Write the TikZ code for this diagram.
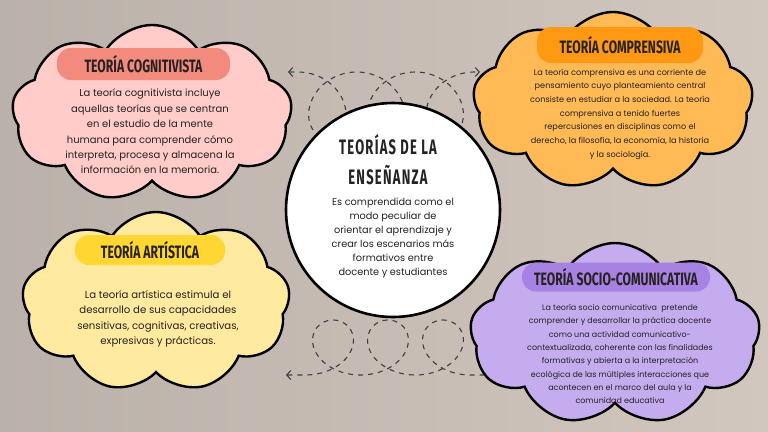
\documentclass[tikz,border=0pt]{standalone}
\usepackage{fontspec}
\setmainfont{Poppins}
\newfontfamily\headfont[FakeStretch=0.68]{Fira Sans}
\newfontfamily\corefont[FakeStretch=0.62,LetterSpace=6]{Fira Sans}
\usetikzlibrary{shapes.symbols,arrows.meta}
\definecolor{bgA}{RGB}{186,177,170}
\definecolor{bgD}{RGB}{210,199,191}
\definecolor{ink}{RGB}{38,34,34}
\definecolor{cogfill}{RGB}{255,204,201}
\definecolor{cogpill}{RGB}{242,138,126}
\definecolor{compfill}{RGB}{255,186,86}
\definecolor{comppill}{RGB}{255,152,18}
\definecolor{artfill}{RGB}{255,234,160}
\definecolor{artpill}{RGB}{255,214,50}
\definecolor{socfill}{RGB}{196,172,238}
\definecolor{socpill}{RGB}{168,130,226}
\tikzset{
  cloudnode/.style={cloud, cloud puffs=9, cloud puff arc=115, aspect=1.6,
    draw=black, line width=2.4bp, inner sep=0pt},
  pill/.style={rounded corners=14bp, inner sep=0pt, text=ink,
    font=\headfont\bfseries\fontsize{18}{18}\selectfont},
  body/.style={align=center, text=ink},
  conn/.style={<->, dashed, dash pattern=on 5bp off 5bp, line width=1.1bp, draw=black!75}
}
\begin{document}
\begin{tikzpicture}[x=1bp, y=-1bp, >={Straight Barb[length=4bp,width=9bp]}]
\shade[left color=bgA, right color=bgD] (0,0) rectangle (768,431);
% dashed coils
\coordinate (topL) at (288,72);
\coordinate (topR) at (480,72);
\coordinate (botL) at (286,375);
\coordinate (botR) at (493,375);
\draw[conn] (topL) -- plot[domain=0:6*pi, samples=220, variable=\t]
  ({298+9.34*\t+32*sin(\t r)}, {72+33*(1-cos(\t r))}) -- (topR);
\draw[conn] (botL) -- plot[domain=0:6*pi, samples=220, variable=\t]
  ({305.5+8.75*\t+33*sin(\t r)}, {375-27.5*(1-cos(\t r))}) -- (botR);
% clouds
\node[cloudnode, fill=cogfill, minimum width=280bp, minimum height=177bp] (cog) at (152,113.5) {};
\node[cloudnode, fill=compfill, minimum width=280bp, minimum height=178bp] (comp) at (613,101) {};
\node[cloudnode, fill=artfill, minimum width=268bp, minimum height=180bp] (art) at (156,302) {};
\node[cloudnode, fill=socfill, minimum width=290bp, minimum height=182bp] (soc) at (615,334) {};
% titles
\node[pill, fill=cogpill, minimum width=173bp, minimum height=32bp] (cogT) at (143.5,64) {TEORÍA COGNITIVISTA};
\node[pill, fill=comppill, minimum width=166bp, minimum height=36bp] (compT) at (620,45) {TEORÍA COMPRENSIVA};
\node[pill, fill=artpill, minimum width=150bp, minimum height=30bp] (artT) at (150,250) {TEORÍA ARTÍSTICA};
\node[pill, fill=socpill, minimum width=188bp, minimum height=29bp] (socT) at (616,277) {TEORÍA SOCIO-COMUNICATIVA};
% texts
\node[body, font=\fontsize{10}{15.5}\selectfont] (cogB) at (150,131.5)
  {La teoría cognitivista incluye\\aquellas teorías que se centran\\en el estudio de la mente\\humana para comprender cómo\\interpreta, procesa y almacena la\\información en la memoria.};
\node[body, font=\fontsize{8.2}{13.7}\selectfont] (compB) at (620,114)
  {La teoría comprensiva es una corriente de\\pensamiento cuyo planteamiento central\\consiste en estudiar a la sociedad. La teoría\\comprensiva a tenido fuertes\\repercusiones en disciplinas como el\\derecho, la filosofía, la economía, la historia\\y la sociología.};
\node[body, font=\fontsize{10.2}{15.5}\selectfont] (artB) at (158,319)
  {La teoría artística estimula el\\desarrollo de sus capacidades\\sensitivas, cognitivas, creativas,\\expresivas y prácticas.};
\node[body, font=\fontsize{8}{13.4}\selectfont] (socB) at (620,354)
  {La teoría socio comunicativa\ \ pretende\\comprender y desarrollar la práctica docente\\como una actividad comunicativo-\\contextualizada, coherente con las finalidades\\formativas y abierta a la interpretación\\ecológica de las múltiples interacciones que\\acontecen en el marco del aula y la\\comunidad educativa};
% centre
\node[circle, draw=black, fill=white, line width=2.6bp, minimum size=214bp] (core) at (393,210) {};
\node[body, font=\corefont\bfseries\fontsize{21}{30}\selectfont] (coreT) at (388,160) {TEORÍAS DE LA\\ENSEÑANZA};
\node[body, font=\fontsize{9.8}{14}\selectfont] (coreB) at (393,238)
  {Es comprendida como el\\modo peculiar de\\orientar el aprendizaje y\\crear los escenarios más\\formativos entre\\docente y estudiantes};
\end{tikzpicture}
\end{document}
